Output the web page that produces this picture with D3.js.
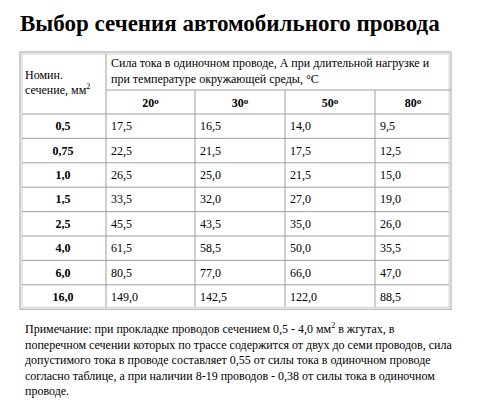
<!DOCTYPE html>
<html><head><meta charset="utf-8">
<script src="https://cdn.jsdelivr.net/npm/d3@7"></script>
<style>body{margin:0;background:#fff}</style>
</head><body>
<svg width="480" height="400"></svg>
<script>
var sections = ["0,5","0,75","1,0","1,5","2,5","4,0","6,0","16,0"];
var temps = ["20","30","50","80"];
var t20 = ["17,5","22,5","26,5","33,5","45,5","61,5","80,5","149,0"];
var t30 = ["16,5","21,5","25,0","32,0","43,5","58,5","77,0","142,5"];
var t50 = ["14,0","17,5","21,5","27,0","35,0","50,0","66,0","122,0"];
var t80 = ["9,5","12,5","15,0","19,0","26,0","35,5","47,0","88,5"];
var cols = [t20, t30, t50, t80];

var svg = d3.select("svg");
var font = "'Liberation Serif', 'DejaVu Serif', serif";
svg.append("text").attr("x", 20).attr("y", 31)
  .attr("font-family", font).attr("font-weight", "bold").attr("font-size", 23)
  .text("Выбор сечения автомобильного провода");

// column edges
var xs = [20, 106, 195, 285, 375, 451];
var tblTop = 52, h1 = 38, h2 = 24, rowH = 24.4;
var y0 = tblTop + h1 + h2;
var y = d3.scaleBand().domain(sections).range([y0, y0 + rowH * sections.length]);
var bottom = y0 + rowH * sections.length;

var g = svg.append("g").attr("stroke", "#a0a0a0").attr("fill", "none");
g.append("rect").attr("x", xs[0]).attr("y", tblTop).attr("width", xs[5] - xs[0]).attr("height", bottom - tblTop);
g.append("rect").attr("x", xs[0] + 2).attr("y", tblTop + 2).attr("width", xs[5] - xs[0] - 4).attr("height", bottom - tblTop - 4).attr("stroke", "#d0d0d0");
// horizontal lines
g.append("line").attr("x1", xs[1]).attr("x2", xs[5]).attr("y1", tblTop + h1).attr("y2", tblTop + h1);
sections.forEach(function(s){
  g.append("line").attr("x1", xs[0]+2).attr("x2", xs[5]-2).attr("y1", y(s)).attr("y2", y(s));
});
// vertical lines
g.append("line").attr("x1", xs[1]).attr("x2", xs[1]).attr("y1", tblTop+2).attr("y2", bottom-2);
for(var i = 2; i < 5; i++){
  g.append("line").attr("x1", xs[i]).attr("x2", xs[i]).attr("y1", tblTop + h1).attr("y2", bottom-2);
}

var t = svg.append("g").attr("font-family", font).attr("font-size", 12).attr("fill", "#000");
var hy = tblTop + h1/2 + h2/2;
t.append("text").attr("x", 25).attr("y", hy - 4).text("Номин.");
var st = t.append("text").attr("x", 25).attr("y", hy + 11).text("сечение, мм");
st.append("tspan").attr("font-size", 8).attr("dy", -5).text("2");
t.append("text").attr("x", xs[1] + 5).attr("y", tblTop + 15).text("Сила тока в одиночном проводе, А при длительной нагрузке и");
t.append("text").attr("x", xs[1] + 5).attr("y", tblTop + 31).text("при температуре окружающей среды, °С");
temps.forEach(function(d, i){
  var tx = t.append("text").attr("x", (xs[i+1] + xs[i+2]) / 2).attr("y", tblTop + h1 + 17)
    .attr("text-anchor", "middle").attr("font-weight", "bold").text(d);
  tx.append("tspan").attr("font-size", 9).attr("dy", -3).text("о");
});
sections.forEach(function(s, r){
  var yy = y(s) + rowH/2 + 4;
  t.append("text").attr("x", (xs[0] + xs[1]) / 2).attr("y", yy).attr("text-anchor", "middle")
    .attr("font-weight", "bold").text(s);
  cols.forEach(function(c, i){
    t.append("text").attr("x", xs[i+1] + 5).attr("y", yy).text(c[r]);
  });
});

var note = [
  ["Примечание: при прокладке проводов сечением 0,5 - 4,0 мм", "2", " в жгутах, в"],
  ["поперечном сечении которых по трассе содержится от двух до семи проводов, сила"],
  ["допустимого тока в проводе составляет 0,55 от силы тока в одиночном проводе"],
  ["согласно таблице, а при наличии 8-19 проводов - 0,38 от силы тока в одиночном"],
  ["проводе."]
];
note.forEach(function(l, i){
  var tx = t.append("text").attr("x", 25).attr("y", 333 + i * 15.5);
  tx.append("tspan").text(l[0]);
  if(l.length > 1){
    tx.append("tspan").attr("font-size", 8).attr("dy", -5).text(l[1]);
    tx.append("tspan").attr("dy", 5).text(l[2]);
  }
});
</script>
</body></html>
